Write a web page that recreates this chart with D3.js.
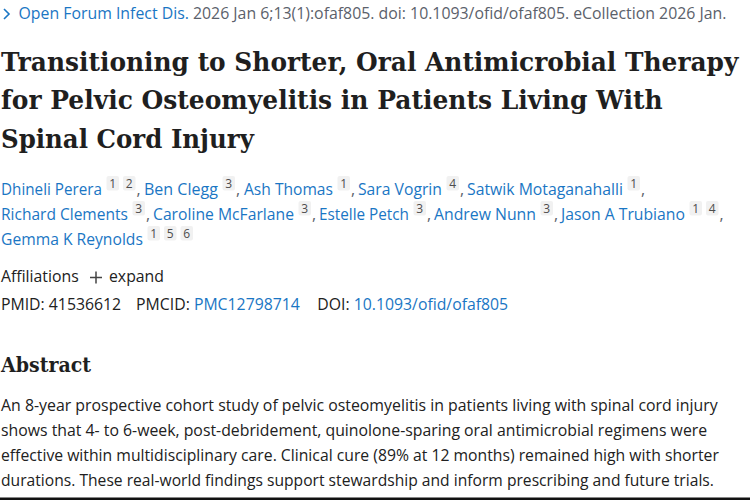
<!DOCTYPE html>
<html><head><meta charset="utf-8">
<script src="https://cdn.jsdelivr.net/npm/d3@7"></script>
<style>html,body{margin:0;padding:0;background:#fff}svg{display:block}</style>
</head><body><div id="c"></div>
<script>
const journalRuns = [
  {t:"Open Forum Infect Dis.", k:"link"},
  {t:" 2026 Jan 6;13(1):ofaf805. doi: 10.1093/ofid/ofaf805. eCollection 2026 Jan.", k:"grey"}
];
const titleLines = [
  "Transitioning to Shorter, Oral Antimicrobial Therapy",
  "for Pelvic Osteomyelitis in Patients Living With",
  "Spinal Cord Injury"
];
const authorLine1 = [["Dhineli Perera",["1","2"]],["Ben Clegg",["3"]],["Ash Thomas",["1"]],["Sara Vogrin",["4"]],["Satwik Motaganahalli",["1"]]];
const authorLine2 = [["Richard Clements",["3"]],["Caroline McFarlane",["3"]],["Estelle Petch",["3"]],["Andrew Nunn",["3"]],["Jason A Trubiano",["1","4"]]];
const authorLine3 = [["Gemma K Reynolds",["1","5","6"]]];
const idRuns = [
  {t:"PMID: 41536612", k:"dark"},{t:"PMCID: ", k:"dark", gap:15},{t:"PMC12798714", k:"link"},
  {t:"DOI: ", k:"dark", gap:17.5},{t:"10.1093/ofid/ofaf805", k:"link"}
];
const abstractHead = "Abstract";
const abstractLines = [
  "An 8-year prospective cohort study of pelvic osteomyelitis in patients living with spinal cord injury",
  "shows that 4- to 6-week, post-debridement, quinolone-sparing oral antimicrobial regimens were",
  "effective within multidisciplinary care. Clinical cure (89% at 12 months) remained high with shorter",
  "durations. These real-world findings support stewardship and inform prescribing and future trials."
];
// layout only (kept apart from the content above)
const titleWidths = [738,662,253];
const abstractWidths = [717,707,718,713];
const authorLayout = [
  {y:195, x:[1,144,244,358,467], w:[101,74,89,84,156]},
  {y:220, x:[1,153,319,434,561], w:[127,141,90,102,124]},
  {y:245, x:[1], w:[142]}
];
const colors = {link:"#1a76c4", grey:"#5b616b", dark:"#212121", badge:"#f1f1f1", badgeText:"#4d4d4d"};
const sans = "'Open Sans','Noto Sans',sans-serif";
const serif = "'DejaVu Serif',serif";

const svg = d3.select("#c").append("svg").attr("width",750).attr("height",500);
svg.append("rect").attr("width",750).attr("height",500).attr("fill","#fff");

function flow(runs, x, y, size){
  runs.forEach(r=>{
    if(r.gap) x += r.gap;
    const tx = svg.append("text").attr("x",x).attr("y",y).attr("xml:space","preserve")
      .style("white-space","pre").attr("font-family",sans).attr("font-size",size)
      .attr("fill",colors[r.k]).text(r.t);
    x += tx.node().getComputedTextLength();
  });
  return x;
}
// Text is fitted to its width by a horizontal scale, so its box stays inside the page.
function fitted(t,x,y,size,w,fam,fill,weight){
  const tx = svg.append("text").attr("font-family",fam).attr("font-size",size)
    .attr("font-weight",weight||400).attr("fill",fill).text(t);
  const sx = w / tx.node().getComputedTextLength();
  tx.attr("transform",`translate(${x},${y}) scale(${sx},1)`);
  return tx;
}
function authors(line, lay, hasComma){
  const size = 15.8, y = lay.y;
  line.forEach((a,i)=>{
    fitted(a[0],lay.x[i],y,size,lay.w[i],sans,colors.link);
    let x = lay.x[i]+lay.w[i]+4.5;
    a[1].forEach(b=>{
      svg.append("rect").attr("x",x).attr("y",y-19).attr("width",12.5).attr("height",14.5).attr("rx",2).attr("fill",colors.badge);
      svg.append("text").attr("x",x+6.25).attr("y",y-7.5).attr("text-anchor","middle").attr("font-family",sans)
        .attr("font-size",12).attr("fill",colors.badgeText).text(b);
      x += 16.5;
    });
    if(hasComma) svg.append("text").attr("x",x-3).attr("y",y).attr("font-family",sans).attr("font-size",size)
      .attr("fill",colors.grey).text(",");
  });
}
svg.append("path").attr("d",d3.line()([[4,9],[9,14],[4,19]])).attr("fill","none").attr("stroke",colors.link).attr("stroke-width",1.6);
flow(journalRuns, 18.5, 19, 15.85);

const titleY = d3.scalePoint().domain(d3.range(titleLines.length)).range([70.5,147.5]);
titleLines.forEach((t,i)=> fitted(t,1,titleY(i),26.5,titleWidths[i],serif,"#1f1f1f",700));
[authorLine1,authorLine2,authorLine3].forEach((l,i)=>authors(l,authorLayout[i],i<2));

svg.append("text").attr("x",1).attr("y",282).attr("font-family",sans).attr("font-size",15.8).attr("fill",colors.dark).text("Affiliations");
svg.append("path").attr("d","M90 277.5H102M96 271.5V283.5").attr("stroke","#444").attr("stroke-width",1.5);
svg.append("text").attr("x",109).attr("y",282).attr("font-family",sans).attr("font-size",15.8).attr("fill",colors.dark).text("expand");
flow(idRuns,1,310,15.8);

fitted(abstractHead,1,372,21,90,serif,"#1f1f1f",700);
const absY = d3.scalePoint().domain(d3.range(abstractLines.length)).range([410.5,485.5]);
abstractLines.forEach((t,i)=> fitted(t,1,absY(i),15.8,abstractWidths[i],sans,colors.dark));
svg.append("rect").attr("x",0).attr("y",497.5).attr("width",750).attr("height",2.5).attr("fill","#111");
</script></body></html>
